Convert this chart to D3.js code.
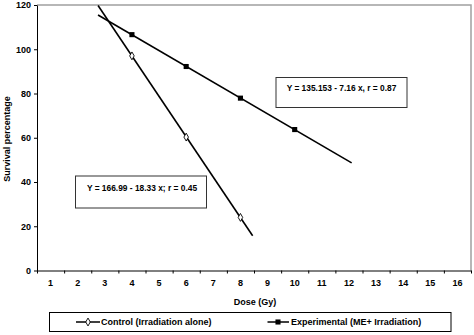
<!DOCTYPE html>
<html>
<head>
<meta charset="utf-8">
<script src="https://cdn.jsdelivr.net/npm/d3@7"></script>
<style>
  html, body { margin: 0; padding: 0; background: #fff; }
  svg { display: block; font-family: "Liberation Sans", Arial, sans-serif; }
  .axis text { font-size: 9px; font-weight: bold; fill: #000; }
  .axis path, .axis line { stroke: #000; }
</style>
</head>
<body>
<svg id="chart" width="474" height="335"></svg>
<script>
// Dose categories on the x axis (Gy)
const doseLabels = [1, 2, 3, 4, 5, 6, 7, 8, 9, 10, 11, 12, 13, 14, 15, 16];
const yTicks = [0, 20, 40, 60, 80, 100, 120];

// Survival percentage per dose
const controlDose = [4, 6, 8];
const controlSurvival = [97, 60.3, 24];
const experimentalDose = [4, 6, 8, 10];
const experimentalSurvival = [106.6, 92.2, 77.9, 63.7];

// Extent of each fitted trend line along the dose axis
const controlTrendRange = [2.75, 8.45];
const experimentalTrendRange = [2.75, 12.1];

const seriesNames = ["Control (Irradiation alone)", "Experimental (ME+ Irradiation)"];
const equationLabels = ["Y = 166.99 - 18.33 x; r = 0.45", "Y = 135.153 - 7.16 x, r = 0.87"];

const svg = d3.select("#chart");
const plotLeft = 37, plotRight = 471, plotTop = 5, plotBottom = 270.5;

const xBand = d3.scaleBand().domain(doseLabels).range([plotLeft, plotRight]).padding(0);
const x = d3.scaleLinear().domain([0.5, 16.5]).range([plotLeft, plotRight]);
const y = d3.scaleLinear().domain([0, 120]).range([plotBottom, plotTop]);

// Plot-area frame (top and right sides)
svg.append("path")
  .attr("d", `M${plotLeft},${plotTop}H${plotRight}V${plotBottom}`)
  .attr("fill", "none").attr("stroke", "#a0a0a0").attr("stroke-width", 1.5);

// Y axis
svg.append("g").attr("class", "axis")
  .attr("transform", `translate(${plotLeft},0)`)
  .call(d3.axisLeft(y).tickValues(yTicks).tickSize(3).tickPadding(3).tickSizeOuter(0));

// X axis: ticks between categories, labels centred in each category
const boundaries = d3.range(0.5, 17, 1);
svg.append("g").attr("class", "axis")
  .attr("transform", `translate(0,${plotBottom})`)
  .call(d3.axisBottom(x).tickValues(boundaries).tickSize(3).tickFormat("").tickSizeOuter(0));
svg.append("g").attr("class", "axis")
  .attr("transform", `translate(0,${plotBottom})`)
  .call(d3.axisBottom(xBand).tickSize(0).tickPadding(9))
  .call(g => g.select(".domain").remove());

// Axis titles
svg.append("text").attr("x", 255).attr("y", 304.5).attr("text-anchor", "middle")
  .attr("font-size", 9).attr("font-weight", "bold").text("Dose (Gy)");
svg.append("text").attr("transform", "translate(9.5,139) rotate(-90)").attr("text-anchor", "middle")
  .attr("font-size", 9).attr("font-weight", "bold").text("Survival percentage");

// Least-squares line through the plotted points
function fit(xs, ys) {
  const mx = d3.mean(xs), my = d3.mean(ys);
  const b = d3.sum(xs, (v, i) => (v - mx) * (ys[i] - my)) / d3.sum(xs, v => (v - mx) ** 2);
  return { a: my - b * mx, b };
}
function trend(xs, ys, range) {
  const f = fit(xs, ys);
  svg.append("line")
    .attr("x1", x(range[0])).attr("y1", y(f.a + f.b * range[0]))
    .attr("x2", x(range[1])).attr("y2", y(f.a + f.b * range[1]))
    .attr("stroke", "#000").attr("stroke-width", 1.6);
}
trend(controlDose, controlSurvival, controlTrendRange);
trend(experimentalDose, experimentalSurvival, experimentalTrendRange);

const diamond = d3.symbol().type(d3.symbolDiamond).size(18);
const square = d3.symbol().type(d3.symbolSquare).size(26);

svg.append("g").selectAll("path")
  .data(controlDose.map((d, i) => [d, controlSurvival[i]]))
  .join("path")
  .attr("transform", d => `translate(${x(d[0])},${y(d[1])})`)
  .attr("d", diamond).attr("fill", "#fff").attr("stroke", "#000").attr("stroke-width", 0.9);

svg.append("g").selectAll("path")
  .data(experimentalDose.map((d, i) => [d, experimentalSurvival[i]]))
  .join("path")
  .attr("transform", d => `translate(${x(d[0])},${y(d[1])})`)
  .attr("d", square).attr("fill", "#000");

// Regression equation boxes
const boxes = [
  { x: 75.5, y: 176, w: 131, h: 32, tx: 142, ty: 191 },
  { x: 276, y: 77.5, w: 131, h: 30, tx: 341.5, ty: 91 }
];
boxes.forEach((b, i) => {
  svg.append("rect").attr("x", b.x).attr("y", b.y).attr("width", b.w).attr("height", b.h)
    .attr("fill", "#fff").attr("stroke", "#333").attr("stroke-width", 1);
  svg.append("text").attr("x", b.tx).attr("y", b.ty).attr("text-anchor", "middle")
    .attr("font-size", 8.4).attr("font-weight", "bold").text(equationLabels[i]);
});

// Legend
const legend = svg.append("g");
legend.append("rect").attr("x", 49.5).attr("y", 312.5).attr("width", 401.5).attr("height", 19)
  .attr("fill", "#fff").attr("stroke", "#000").attr("stroke-width", 1);
const legendItems = [
  { x1: 76, x2: 100, mx: 88, tx: 101, sym: diamond, fill: "#fff" },
  { x1: 267.5, x2: 289, mx: 278, tx: 291, sym: square, fill: "#000" }
];
legendItems.forEach((it, i) => {
  legend.append("line").attr("x1", it.x1).attr("x2", it.x2).attr("y1", 322).attr("y2", 322)
    .attr("stroke", "#000").attr("stroke-width", 1.5);
  legend.append("path").attr("transform", `translate(${it.mx},322)`).attr("d", it.sym)
    .attr("fill", it.fill).attr("stroke", i === 0 ? "#000" : "none").attr("stroke-width", 0.9);
  legend.append("text").attr("x", it.tx).attr("y", 325.3)
    .attr("font-size", 9).attr("font-weight", "bold").text(seriesNames[i]);
});
</script>
</body>
</html>
